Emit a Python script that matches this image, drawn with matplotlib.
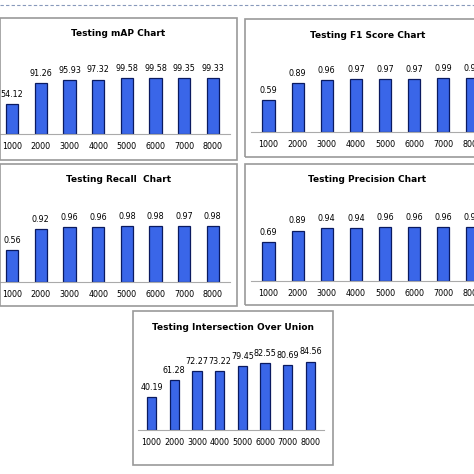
import matplotlib.pyplot as plt
from matplotlib.patches import Rectangle

steps = ['1000', '2000', '3000', '4000', '5000', '6000', '7000', '8000']
map_vals = [54.12, 91.26, 95.93, 97.32, 99.58, 99.58, 99.35, 99.33]
f1_vals = [0.59, 0.89, 0.96, 0.97, 0.97, 0.97, 0.99, 0.99]
recall_vals = [0.56, 0.92, 0.96, 0.96, 0.98, 0.98, 0.97, 0.98]
precision_vals = [0.69, 0.89, 0.94, 0.94, 0.96, 0.96, 0.96, 0.96]
iou_vals = [40.19, 61.28, 72.27, 73.22, 79.45, 82.55, 80.69, 84.56]

W = H = 474
fig = plt.figure(figsize=(W / 100, H / 100), dpi=100)
fig.patch.set_facecolor('white')

# dashed line at the very top
fig.add_artist(plt.Line2D([0, 1], [1 - 5 / H, 1 - 5 / H], color='#8899bb',
                          lw=0.8, ls=(0, (3, 2))))


def panel(box, ax_box, title, vals, fmt, ymax):
    x0, y0, x1, y1 = box
    fig.add_artist(Rectangle((x0 / W, 1 - y1 / H), (x1 - x0) / W, (y1 - y0) / H,
                             fill=False, ec='#999999', lw=1.2,
                             transform=fig.transFigure))
    fig.text((x0 + x1) / 2 / W, 1 - (y0 + 16) / H, title, ha='center',
             va='center', fontsize=6.5, fontweight='bold', family='DejaVu Sans')
    ax0, ay0, ax1, ay1 = ax_box
    ax = fig.add_axes([ax0 / W, 1 - ay1 / H, (ax1 - ax0) / W, (ay1 - ay0) / H])
    xs = range(len(steps))
    ax.bar(xs, vals, width=0.42, color='#3a66e8', edgecolor='#0a1a60', lw=0.9)
    for x, v in zip(xs, vals):
        ax.text(x, v + ymax * 0.06, fmt.format(v), ha='center', va='bottom',
                fontsize=5.8, clip_on=False)
    ax.set_ylim(0, ymax)
    ax.set_xlim(-0.6, len(steps) - 0.4)
    ax.set_xticks(list(xs))
    ax.set_xticklabels(steps, fontsize=5.8)
    ax.tick_params(length=0, pad=6)
    ax.set_yticks([])
    for s in ['top', 'right', 'left']:
        ax.spines[s].set_visible(False)
    ax.spines['bottom'].set_color('#aaaaaa')
    ax.set_facecolor('none')


panel((0, 18, 237, 160), (-5, 50, 230, 134), 'Testing mAP Chart', map_vals, '{:.2f}', 150)
panel((245, 19, 490, 157), (251, 50, 490, 132), 'Testing F1 Score Chart', f1_vals, '{:.2f}', 1.5)
panel((0, 164, 237, 306), (-5, 196, 230, 282), 'Testing Recall  Chart', recall_vals, '{:.2f}', 1.5)
panel((245, 164, 490, 305), (251, 196, 490, 281), 'Testing Precision Chart', precision_vals, '{:.2f}', 1.5)
panel((133, 311, 333, 465), (138, 345, 324, 430), 'Testing Intersection Over Union', iou_vals, '{:.2f}', 105)

fig.savefig('out.png', dpi=100)
